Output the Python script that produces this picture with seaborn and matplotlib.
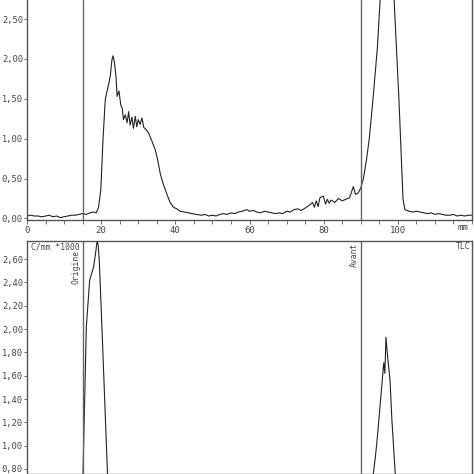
import numpy as np
import pandas as pd
import matplotlib.pyplot as plt
import matplotlib.ticker as mticker
import seaborn as sns

# top scan (mm, counts/mm *1000)
top_x = [0, 1, 2, 3, 4, 5, 6, 7, 8, 9, 10, 11, 12, 13, 14, 15, 16, 17, 18, 18.7,
         19.3, 19.9, 20.5, 21.1, 21.6, 22.1, 22.5, 22.9, 23.2, 23.6, 24.0, 24.3, 24.8,
         25.3, 25.7, 26.0, 26.5, 27.0, 27.4, 27.8, 28.3, 28.7, 29.2, 29.6, 30.0,
         30.5, 31.0, 31.5, 32.0, 32.8, 33.6, 34.6, 35.3, 35.9, 36.6, 37.3, 38.0,
         38.6, 39.5, 40.4, 41.3, 42.5, 43.5, 44.5, 45.8, 47, 48, 49, 50, 51, 52,
         53, 54, 55, 56, 57, 58, 59.3, 60, 61, 62, 63, 64, 65, 66, 67, 68, 69, 70,
         71, 72, 73, 74, 75, 76, 77, 77.5, 78, 78.5, 79, 79.9, 80.5, 81, 81.5, 82,
         83, 84, 85, 86, 87, 88, 88.6, 89.3, 90, 90.7, 91.5, 92.3, 93.4, 94.5, 95.2,
         96, 97, 98, 99, 100.3, 101.4, 101.9, 102.5, 103, 104, 105, 106, 107, 108,
         109, 110, 111, 112, 113, 114, 115, 116, 117, 118, 119, 120]
top_y = [0.03, 0.04, 0.03, 0.03, 0.02, 0.03, 0.04, 0.02, 0.03, 0.01, 0.02, 0.03, 0.04,
         0.04, 0.05, 0.06, 0.05, 0.07, 0.08, 0.07,
         0.14, 0.36, 0.99, 1.49, 1.60, 1.70, 1.80, 1.99, 2.04, 1.95, 1.78, 1.53, 1.60,
         1.42, 1.38, 1.24, 1.30, 1.20, 1.34, 1.17, 1.27, 1.13, 1.28, 1.15, 1.24,
         1.18, 1.26, 1.14, 1.12, 1.07, 0.98, 0.86, 0.72, 0.57, 0.45, 0.36, 0.27,
         0.20, 0.14, 0.12, 0.09, 0.08, 0.07, 0.06, 0.05, 0.04, 0.05, 0.03, 0.04, 0.03, 0.05,
         0.06, 0.05, 0.07, 0.06, 0.08, 0.09, 0.11, 0.09, 0.10, 0.08, 0.07, 0.09, 0.08, 0.07,
         0.06, 0.07, 0.06, 0.09, 0.08, 0.11, 0.12, 0.10, 0.13, 0.16, 0.20, 0.14, 0.22,
         0.15, 0.26, 0.28, 0.18, 0.24, 0.19, 0.23, 0.20, 0.25, 0.22, 0.24, 0.26, 0.40,
         0.30, 0.32, 0.38, 0.50, 0.72, 1.00, 1.55, 2.15, 2.74, 3.00, 3.10, 2.95, 2.74,
         1.49, 0.24, 0.11, 0.10, 0.09, 0.08, 0.09, 0.08, 0.07, 0.06, 0.07, 0.05, 0.06,
         0.05, 0.04, 0.04, 0.05, 0.03, 0.04, 0.03, 0.04, 0.04]

# bottom scan
bot_x = [14.6, 15.1, 16.0, 16.9, 17.95, 18.5, 18.9, 19.2, 19.5, 20.2, 21.0, 21.6, 21.9,
         92.8, 93.4, 94.0, 94.5, 95.5, 96.2, 96.5, 96.8, 97.2, 97.9, 98.4, 99.3, 99.8]
bot_y = [0.50, 0.76, 2.02, 2.42, 2.53, 2.65, 2.76, 2.72, 2.58, 2.02, 1.35, 0.85, 0.60,
         0.50, 0.76, 0.92, 1.08, 1.45, 1.71, 1.62, 1.93, 1.78, 1.56, 1.22, 0.76, 0.55]

markers_x = [15, 90]
marker_labels = ['Origine', 'Avant']
x_ticks = [0, 20, 40, 60, 80, 100]
top_yticks = [0.0, 0.5, 1.0, 1.5, 2.0, 2.5]
bot_yticks = [0.8, 1.0, 1.2, 1.4, 1.6, 1.8, 2.0, 2.2, 2.4, 2.6]

sns.set_style('white')
plt.rcParams['font.family'] = ['DejaVu Sans Mono']

top_df = pd.DataFrame({'mm': top_x, 'c': top_y})
bot_df = pd.DataFrame({'mm': bot_x[:13] + [np.nan] + bot_x[13:],
                       'c': bot_y[:13] + [np.nan] + bot_y[13:]})

fig = plt.figure(figsize=(4.74, 4.74), dpi=100)
ax1 = fig.add_axes([27 / 474, 1 - 220 / 474, 445 / 474, 220 / 474])
ax2 = fig.add_axes([27 / 474, 0, 445 / 474, 1 - 241 / 474])

fmt = mticker.FuncFormatter(lambda v, p: f'{v:.2f}'.replace('.', ','))
grey = '#555555'
txt = '#444444'

sns.lineplot(data=top_df, x='mm', y='c', ax=ax1, color='#222222', lw=0.8,
             sort=False, estimator=None)
ax2.plot(bot_df['mm'], bot_df['c'], color='#222222', lw=0.8)

for ax in (ax1, ax2):
    ax.set_xlim(0, 120)
    for xv in markers_x:
        ax.axvline(xv, color='#666666', lw=1)
    ax.set_xlabel('')
    ax.set_ylabel('')
    for s in ax.spines.values():
        s.set_color(grey)
        s.set_linewidth(1)
    ax.yaxis.set_major_formatter(fmt)
    ax.tick_params(axis='y', which='major', length=2, width=0.6, colors=grey,
                   labelcolor=txt, labelsize=6.3, pad=1, left=True)

ax1.set_ylim(-0.02, 2.74)
ax1.set_yticks(top_yticks)
ax1.spines['top'].set_visible(False)
ax1.set_xticks(x_ticks)
ax1.xaxis.set_minor_locator(mticker.MultipleLocator(5))
ax1.tick_params(axis='x', which='both', bottom=True, length=3, width=0.6,
                colors=grey, labelcolor=txt, labelsize=6.5, pad=1)
ax1.text(119, -0.06, 'mm', ha='right', va='top', fontsize=6.5, color=txt)

ax2.set_ylim(0.757, 2.755)
ax2.set_yticks(bot_yticks)
ax2.set_xticks([])
ax2.text(1, 2.745, 'C/mm *1000', ha='left', va='top', fontsize=5.8, color=txt)
ax2.text(119.5, 2.745, 'TLC', ha='right', va='top', fontsize=5.8, color=txt)
ax2.text(markers_x[0] - 0.6, 2.68, marker_labels[0], rotation=90, ha='right',
         va='top', fontsize=5.8, color=txt)
ax2.text(markers_x[1] - 0.6, 2.74, marker_labels[1], rotation=90, ha='right',
         va='top', fontsize=5.8, color=txt)

fig.savefig('out.png', dpi=100)
